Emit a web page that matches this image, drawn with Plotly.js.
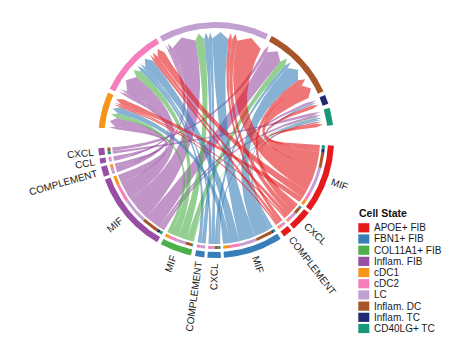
<!DOCTYPE html>
<html><head><meta charset="utf-8">
<script src="https://cdn.plot.ly/plotly-3.0.1.min.js"></script>
<style>html,body{margin:0;padding:0;background:#fff}</style>
</head><body><div id="chart" style="width:474px;height:358px"></div>
<script>
// ---------------- data ----------------
const cellStates = ['APOE+ FIB','FBN1+ FIB','COL11A1+ FIB','Inflam. FIB','cDC1','cDC2','LC','Inflam. DC','Inflam. TC','CD40LG+ TC'];
const cellColors = ['#E41A1C','#377EB8','#4DAF4A','#984EA3','#F4961A','#F47FBC','#C3A0D2','#A65628','#202A72','#199778'];

const senderCells   = ['Inflam. FIB','Inflam. FIB','Inflam. FIB','Inflam. FIB','COL11A1+ FIB','FBN1+ FIB','FBN1+ FIB','FBN1+ FIB','APOE+ FIB','APOE+ FIB','APOE+ FIB'];
const senderLigands = ['CXCL','CCL','COMPLEMENT','MIF','MIF','COMPLEMENT','CXCL','MIF','COMPLEMENT','CXCL','MIF'];
const receiverCells = ['CD40LG+ TC','Inflam. TC','Inflam. DC','LC','cDC2','cDC1'];

const linkSource = ['Inflam. FIB','Inflam. FIB','Inflam. FIB','Inflam. FIB','Inflam. FIB','Inflam. FIB','Inflam. FIB','Inflam. FIB','Inflam. FIB','Inflam. FIB','Inflam. FIB','Inflam. FIB','Inflam. FIB',
  'COL11A1+ FIB','COL11A1+ FIB','COL11A1+ FIB','COL11A1+ FIB','COL11A1+ FIB',
  'FBN1+ FIB','FBN1+ FIB','FBN1+ FIB','FBN1+ FIB','FBN1+ FIB','FBN1+ FIB','FBN1+ FIB','FBN1+ FIB','FBN1+ FIB','FBN1+ FIB','FBN1+ FIB','FBN1+ FIB',
  'APOE+ FIB','APOE+ FIB','APOE+ FIB','APOE+ FIB','APOE+ FIB','APOE+ FIB','APOE+ FIB','APOE+ FIB','APOE+ FIB','APOE+ FIB','APOE+ FIB','APOE+ FIB','APOE+ FIB','APOE+ FIB'];
const linkLigand = ['CXCL','CXCL','CCL','CCL','COMPLEMENT','COMPLEMENT','COMPLEMENT','MIF','MIF','MIF','MIF','MIF','MIF',
  'MIF','MIF','MIF','MIF','MIF',
  'COMPLEMENT','COMPLEMENT','CXCL','CXCL','CXCL','CXCL','MIF','MIF','MIF','MIF','MIF','MIF',
  'COMPLEMENT','COMPLEMENT','COMPLEMENT','CXCL','CXCL','CXCL','CXCL','CXCL','MIF','MIF','MIF','MIF','MIF','MIF'];
const linkTarget = ['Inflam. DC','CD40LG+ TC','cDC2','LC','cDC1','cDC2','LC','cDC1','cDC2','LC','Inflam. DC','Inflam. TC','CD40LG+ TC',
  'cDC1','cDC2','LC','Inflam. DC','CD40LG+ TC',
  'cDC2','LC','cDC2','LC','Inflam. DC','CD40LG+ TC','cDC1','cDC2','LC','Inflam. DC','Inflam. TC','CD40LG+ TC',
  'cDC1','cDC2','LC','cDC1','cDC2','LC','Inflam. DC','CD40LG+ TC','cDC1','cDC2','LC','Inflam. DC','Inflam. TC','CD40LG+ TC'];
const linkValue = [2,1.5,1.5,1,1.5,1.5,2,5,9.5,13.5,9,1.5,1.5,
  2.5,4,5,3.5,0.5,
  2,2.5,1.5,2,2,1,3.5,5.5,9,9,1,1,
  1,1.5,2,1,2,3,3.5,1,3,4.5,14,8,2,2];

// ---------------- layout computation ----------------
const D2R = Math.PI/180;
const START = 184, GAP_LIG = 1.5, GAP_CELL = 2, GAP_BIG = 10;
const R_OUT1 = 112, R_OUT2 = 118, R_IN1 = 106, R_IN2 = 109, R_SRC = 104, R_TB = 101.5, R_TT = 108, R_LAB = 123;
const colorOf = c => cellColors[cellStates.indexOf(c)];
function rgba(hex, a){const n=parseInt(hex.slice(1),16);return `rgba(${n>>16},${(n>>8)&255},${n&255},${a})`;}

const links = linkValue.map((v,i)=>({src:linkSource[i], lig:linkLigand[i], tgt:linkTarget[i], v}));
const segs = senderCells.map((c,i)=>({cell:c, lig:senderLigands[i], sum:0, links:[]}));
const recs = receiverCells.map(c=>({cell:c, sum:0, links:[]}));
links.forEach(l=>{
  const s = segs.find(s=>s.cell===l.src && s.lig===l.lig);
  const r = recs.find(r=>r.cell===l.tgt);
  s.sum += l.v; r.sum += l.v; s.links.push(l); r.links.push(l);
  l.seg = s; l.rec = r;
});
let gapTotal = 0;
segs.forEach((s,i)=>{ gapTotal += (i<segs.length-1) ? (segs[i+1].cell===s.cell?GAP_LIG:GAP_CELL) : GAP_BIG; });
recs.forEach((r,i)=>{ gapTotal += (i<recs.length-1) ? GAP_CELL : GAP_BIG; });
const total = links.reduce((a,l)=>a+l.v,0);
const k = (360-gapTotal)/(2*total);
let ang = START;
segs.forEach((s,i)=>{ s.a1=ang; s.a2=ang+s.sum*k; s.c=(s.a1+s.a2)/2; ang = s.a2 + ((i<segs.length-1)?(segs[i+1].cell===s.cell?GAP_LIG:GAP_CELL):GAP_BIG); });
recs.forEach((r,i)=>{ r.a1=ang; r.a2=ang+r.sum*k; r.c=(r.a1+r.a2)/2; ang = r.a2 + GAP_CELL; });
const mod = x => ((x%360)+360)%360;
segs.forEach(s=>{
  s.links.sort((a,b)=>mod(b.rec.c-s.c)-mod(a.rec.c-s.c));
  let a=s.a1; s.links.forEach(l=>{l.s1=a; a+=l.v*k; l.s2=a;});
});
recs.forEach(r=>{
  r.links.sort((a,b)=>mod(b.seg.c-r.c)-mod(a.seg.c-r.c));
  let a=r.a1; r.links.forEach(l=>{l.t1=a; a+=l.v*k; l.t2=a;});
});

// ---------------- geometry helpers ----------------
const P = (r,d)=>[r*Math.cos(d*D2R), r*Math.sin(d*D2R)];
function arc(r,a1,a2){const n=Math.max(2,Math.ceil(Math.abs(a2-a1)/0.5)+1);const o=[];for(let i=0;i<n;i++)o.push(P(r,a1+(a2-a1)*i/(n-1)));return o;}
function bez(p0,p2){const o=[];const n=60;for(let i=0;i<=n;i++){const t=i/n;o.push([(1-t)*(1-t)*p0[0]+t*t*p2[0],(1-t)*(1-t)*p0[1]+t*t*p2[1]]);}return o;}
function band(r1,r2,a1,a2){return arc(r2,a1,a2).concat(arc(r1,a2,a1));}
function poly(pts,fill){
  const x=pts.map(p=>p[0]), y=pts.map(p=>p[1]);
  x.push(x[0]); y.push(y[0]);
  return {type:'scatter',mode:'lines',x,y,fill:'toself',fillcolor:fill,line:{width:0},hoverinfo:'skip',showlegend:false};
}

const traces = [];
// links
links.forEach(l=>{
  let pts = arc(R_SRC,l.s1,l.s2);
  pts = pts.concat(bez(P(R_SRC,l.s2),P(R_TB,l.t1)));
  pts.push(P(R_TT,(l.t1+l.t2)/2));
  pts = pts.concat(bez(P(R_TB,l.t2),P(R_SRC,l.s1)));
  traces.push(poly(pts, rgba(colorOf(l.src),0.6)));
});
// outer tracks
segs.forEach(s=>traces.push(poly(band(R_OUT1,R_OUT2,s.a1,s.a2),colorOf(s.cell))));
recs.forEach(r=>traces.push(poly(band(R_OUT1,R_OUT2,r.a1,r.a2),colorOf(r.cell))));
// inner target strips on sender segments
links.forEach(l=>traces.push(poly(band(R_IN1,R_IN2,l.s1,l.s2),colorOf(l.tgt))));

// ---------------- labels ----------------
const cv=document.createElement('canvas').getContext('2d');
cv.font='10px Arial, "Liberation Sans", sans-serif';
const FONT='Arial, "Liberation Sans", sans-serif';
const annotations=[];
segs.forEach(s=>{
  const w=cv.measureText(s.lig).width;
  const p=P(R_LAB+w/2,s.c);
  const left=Math.cos(s.c*D2R)<0;
  let ta = left ? -(s.c+180) : -s.c;
  ta = ((ta%360)+540)%360-180;
  annotations.push({x:p[0],y:p[1],xref:'x',yref:'y',text:s.lig,showarrow:false,textangle:ta,
    xanchor:'center',yanchor:'middle',font:{size:10,color:'#1a1a1a',family:FONT}});
});
// legend
const W=474,H=358;
annotations.push({x:357/W,y:1-212.5/H,xref:'paper',yref:'paper',text:'<b>Cell State</b>',showarrow:false,
  xanchor:'left',yanchor:'middle',font:{size:10.5,color:'#111',family:FONT}});
const shapes=[];
cellStates.forEach((c,i)=>{
  const cy=227.8+i*11.19;
  shapes.push({type:'rect',xref:'paper',yref:'paper',x0:358.3/W,x1:369.3/W,y0:1-(cy+4.6)/H,y1:1-(cy-4.6)/H,
    fillcolor:cellColors[i],line:{width:0}});
  annotations.push({x:372/W,y:1-cy/H,xref:'paper',yref:'paper',text:c,showarrow:false,
    xanchor:'left',yanchor:'middle',font:{size:10,color:'#1a1a1a',family:FONT}});
});

const layout={width:W,height:H,margin:{l:0,r:0,t:0,b:0},paper_bgcolor:'#fff',plot_bgcolor:'#fff',
  xaxis:{range:[-216,258],visible:false,fixedrange:true},
  yaxis:{range:[-218,140],visible:false,fixedrange:true},
  showlegend:false,annotations,shapes,font:{family:FONT}};
Plotly.newPlot('chart',traces,layout,{displayModeBar:false,staticPlot:true});
</script></body></html>
